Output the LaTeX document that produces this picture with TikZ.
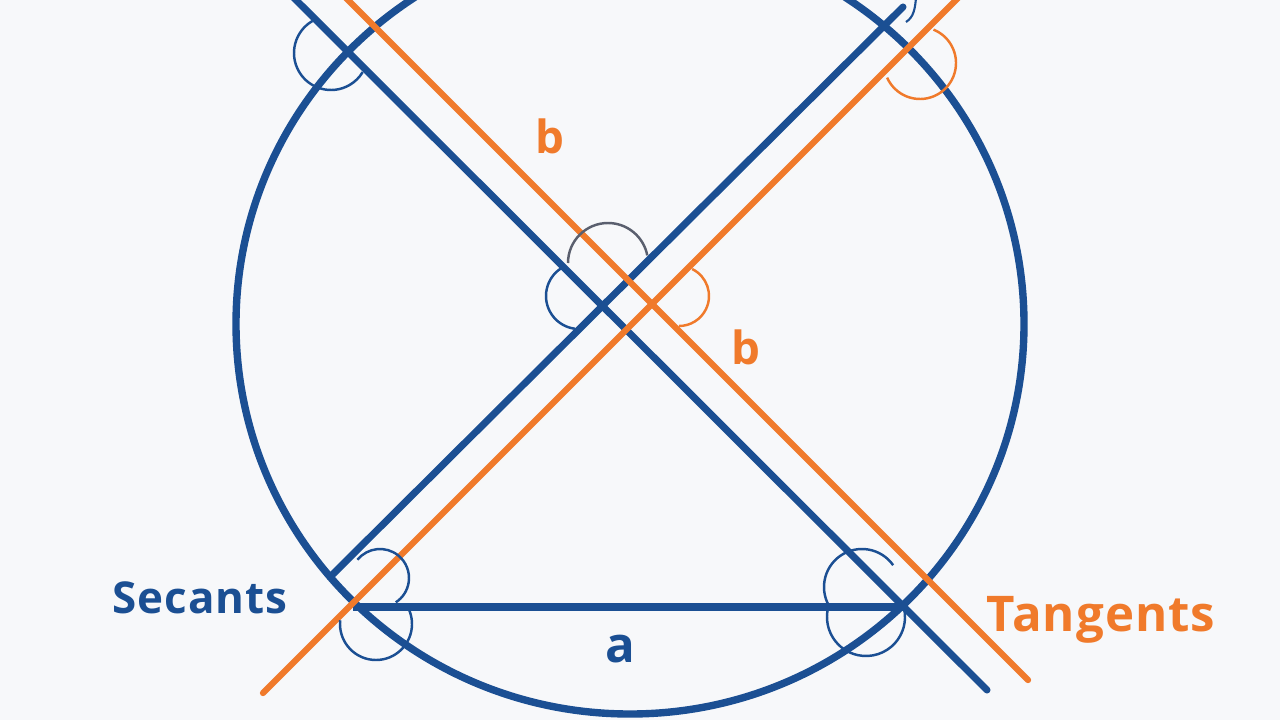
\documentclass[tikz,border=0pt]{standalone}
\usepackage{fontspec}
\newfontfamily\labelfont[LetterSpace=2]{Open Sans}
\usepackage{tikz}

\definecolor{secblue}{HTML}{1B4F93}
\definecolor{tanorange}{HTML}{F07A2B}
\definecolor{markgray}{HTML}{5A5F6E}
\definecolor{paper}{HTML}{F7F8FA}

\begin{document}
\begin{tikzpicture}[x=0.02cm,y=-0.02cm,
    secant/.style={draw=secblue,line width=4pt,line cap=round},
    tangent/.style={draw=tanorange,line width=3.6pt,line cap=round},
    angmark/.style={line width=1.4pt},
    lbl/.style={font=\labelfont\bfseries\fontsize{25}{30}\selectfont,anchor=base}]
    \fill[paper] (0,0) rectangle (1280,720);
    \useasboundingbox (0,0) rectangle (1280,720);
    \clip (0,0) rectangle (1280,720);
    % end points of the four lines and the chord
    \coordinate (S1a) at (284,-12);  \coordinate (S1b) at (987,690);
    \coordinate (S2a) at (330,577);  \coordinate (S2b) at (903,7);
    \coordinate (T1a) at (336,-12);  \coordinate (T1b) at (1028,680);
    \coordinate (T2a) at (263,693);  \coordinate (T2b) at (968,-12);
    \coordinate (Ca) at (353,607);   \coordinate (Cb) at (907,607);
    \coordinate (O) at (630,324);
    \draw[secblue,line width=4.2pt] (O) ellipse[x radius=394,y radius=390];
    \draw[secant] (S1a) -- (S1b);
    \draw[secant] (S2a) -- (S2b);
    \draw[secant,line cap=butt] (Ca) -- (Cb);
    \draw[secblue,line width=1.2pt] (906,22) .. controls (914,17) and (915,8) .. (916,-2);
    \draw[tangent] (T1a) -- (T1b);
    \draw[tangent] (T2a) -- (T2b);
    % angle marks
    \foreach \cx/\cy/\r/\a/\b/\col in {
        331/53/37/240/31/secblue, 920/63/36/-68/156/tanorange,
        608/263/40/180/349/markgray, 579/296/33/243/97/secblue,
        679/296/30/-64/90/tanorange, 380/578/29/219/417/secblue,
        376/624/36/186/-34/secblue, 862/587/38/145/325/secblue,
        866/617/39/192/-12/secblue}
        \draw[angmark,\col] (\cx,\cy) ++(\a:\r) arc[start angle=\a,end angle=\b,radius=\r];
    % labels
    \node[lbl,text=secblue] (seclbl) at (200,613) {Secants};
    \node[lbl,text=tanorange,font=\labelfont\bfseries\fontsize{28}{32}\selectfont] (tanlbl) at (1101,631) {Tangents};
    \node[lbl,text=tanorange,font=\labelfont\bfseries\fontsize{26}{30}\selectfont] (blbl1) at (550,153) {b};
    \node[lbl,text=tanorange,font=\labelfont\bfseries\fontsize{26}{30}\selectfont] (blbl2) at (746,364) {b};
    \node[lbl,text=secblue,font=\labelfont\bfseries\fontsize{28}{32}\selectfont] (albl) at (620,662) {a};
\end{tikzpicture}
\end{document}
